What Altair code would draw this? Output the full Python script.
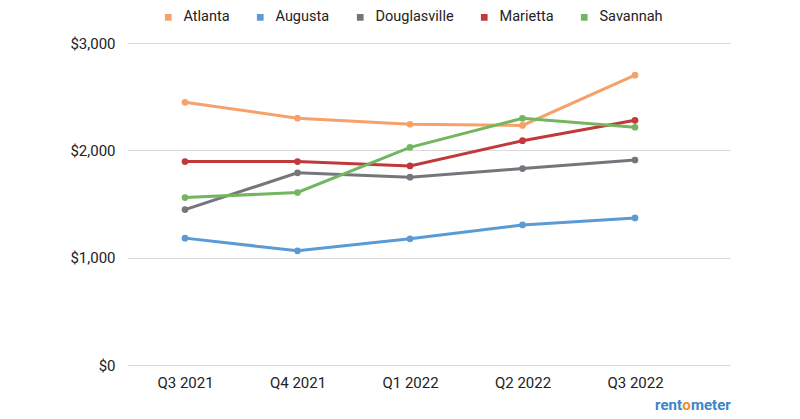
import altair as alt
import pandas as pd

quarters = ["Q3 2021", "Q4 2021", "Q1 2022", "Q2 2022", "Q3 2022"]
cities = ["Atlanta", "Augusta", "Douglasville", "Marietta", "Savannah"]
atlanta = [2447, 2300, 2243, 2232, 2700]
augusta = [1182, 1064, 1176, 1305, 1370]
douglasville = [1448, 1790, 1750, 1830, 1910]
marietta = [1895, 1895, 1855, 2090, 2280]
savannah = [1560, 1607, 2028, 2298, 2215]
colors = ["#F6A06A", "#5B9BD5", "#75767B", "#C0393B", "#73B65F"]

series = [atlanta, augusta, douglasville, marietta, savannah]
rows = []
for c, vals in zip(cities, series):
    for i, (q, v) in enumerate(zip(quarters, vals)):
        rows.append({"city": c, "idx": i, "quarter": q, "rent": v})
df = pd.DataFrame(rows)

label_arr = "[" + ",".join("'%s'" % q for q in quarters) + "]"

FONT = "Roboto"
W, H = 603, 322

x = alt.X("idx:Q",
          scale=alt.Scale(domain=[-0.5156, 4.8444], nice=False, zero=False),
          axis=alt.Axis(values=[0, 1, 2, 3, 4], labelExpr=label_arr + "[datum.value]",
                        title=None, grid=False, domain=False, ticks=False,
                        labelPadding=10, labelFontSize=15, labelColor="#222222",
                        labelFont=FONT, labelFontWeight="normal"))
y = alt.Y("rent:Q",
          scale=alt.Scale(domain=[0, 3000], nice=False),
          axis=alt.Axis(values=[0, 1000, 2000, 3000], format="$,.0f", title=None,
                        domain=False, ticks=False, gridColor="#D9D9D9", gridWidth=1,
                        labelPadding=12, labelFontSize=15, labelColor="#222222",
                        labelFont=FONT, labelFontWeight="normal"))
color = alt.Color("city:N",
                  scale=alt.Scale(domain=cities, range=colors),
                  legend=alt.Legend(title=None, orient="none", direction="horizontal",
                                    legendX=34, legendY=-33, symbolType="square",
                                    symbolSize=45, symbolStrokeWidth=0,
                                    labelFontSize=14.5, labelFont=FONT,
                                    labelFontWeight="normal",
                                    labelColor="#222222", columnPadding=23,
                                    labelOffset=8))

base = alt.Chart(df).encode(x=x, y=y, color=color)
lines = base.mark_line(strokeWidth=3)
points = base.mark_circle(size=45, opacity=1)

logo_df = pd.DataFrame({"t": ["rentometer"]})
LY = 362
rent = alt.Chart(logo_df).mark_text(text="rent", align="right", baseline="middle",
                                    font=FONT, fontWeight="bold", fontSize=15,
                                    color="#3D85C6").encode(x=alt.value(555), y=alt.value(LY))
o = alt.Chart(logo_df).mark_text(text="o", align="center", baseline="middle",
                                 font=FONT, fontWeight="bold", fontSize=15,
                                 color="#F28C28").encode(x=alt.value(559.5), y=alt.value(LY))
meter = alt.Chart(logo_df).mark_text(text="meter", align="left", baseline="middle",
                                     font=FONT, fontWeight="bold", fontSize=15,
                                     color="#3D85C6").encode(x=alt.value(564), y=alt.value(LY))

chart = alt.layer(lines, points, rent, o, meter).properties(
    width=W, height=H,
    autosize=alt.AutoSizeParams(type="none"),
    padding={"left": 119, "top": 35, "right": 62, "bottom": 52},
).configure(font=FONT, background="white").configure_view(strokeWidth=0, stroke="transparent")

chart.save("out.html", embed_options={"renderer": "svg", "actions": False})
